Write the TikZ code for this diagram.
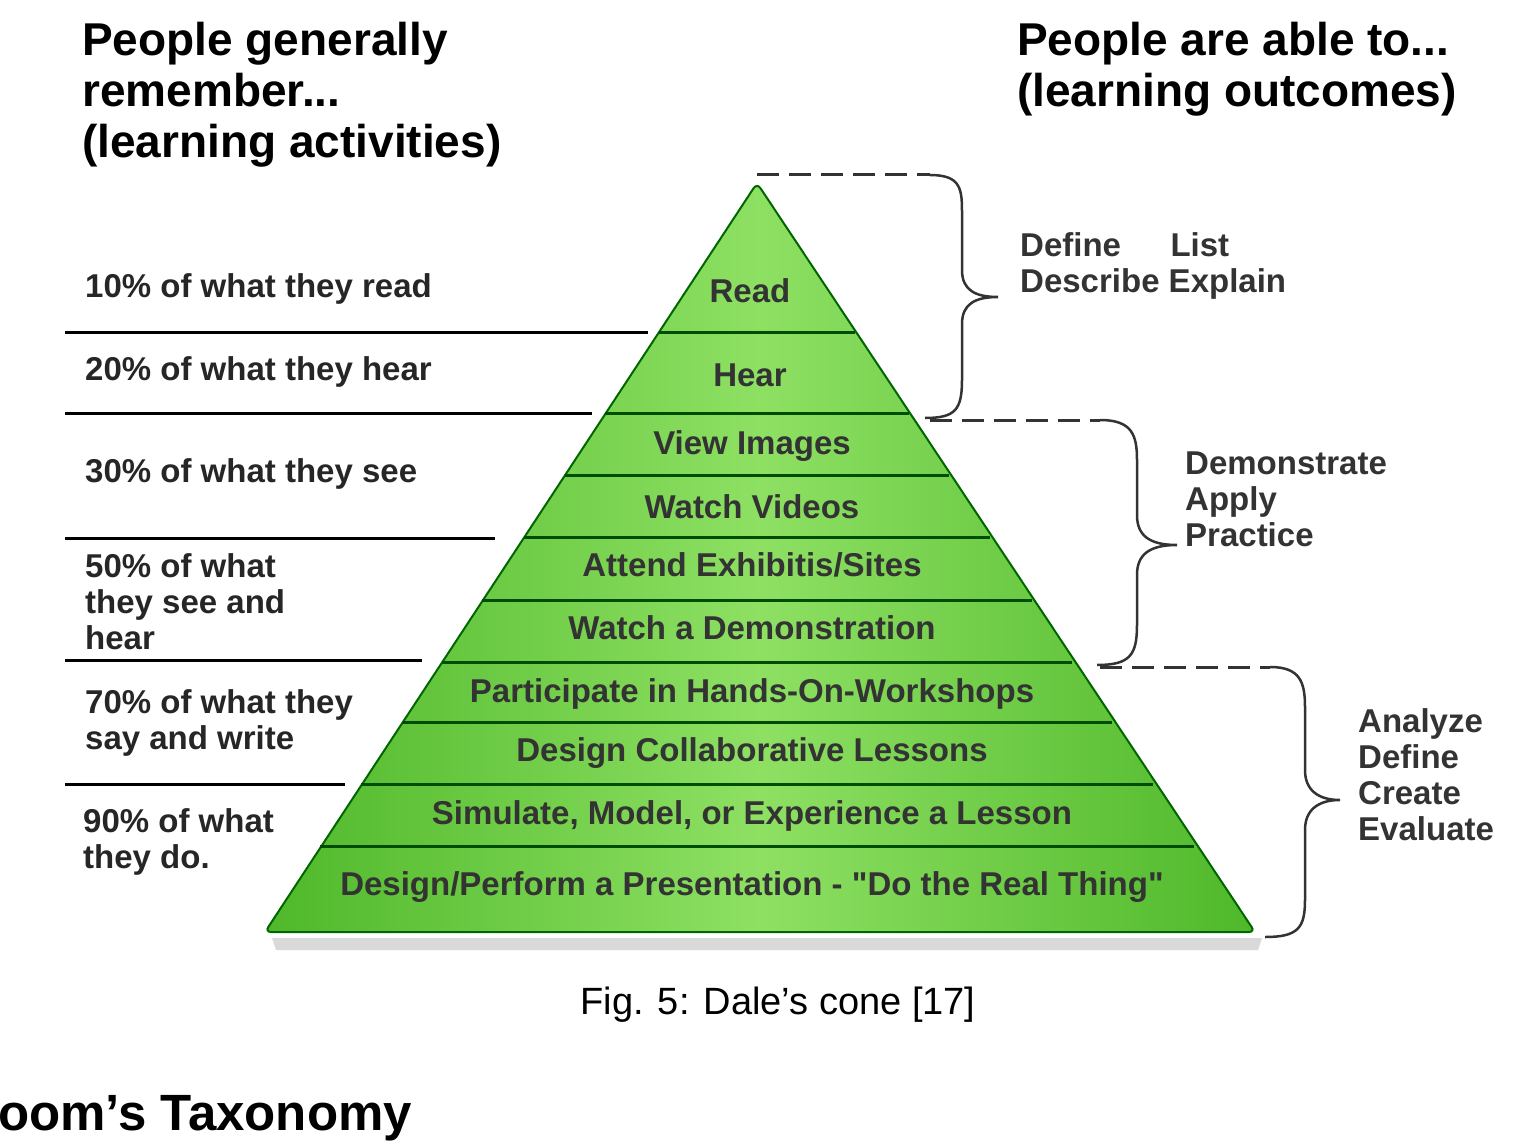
\documentclass[tikz,border=0pt]{standalone}
\usepackage{fontspec}
\setmainfont{Liberation Sans}[Ligatures=TeXOff]
\begin{document}
\begin{tikzpicture}[x=1pt,y=-1pt,
  lab/.style={anchor=west,align=left,font=\fontsize{33}{36}\selectfont\bfseries,text=black!85,inner sep=0},
  ttl/.style={anchor=north west,align=left,font=\fontsize{46}{51}\selectfont\bfseries,inner sep=0},
  pt/.style={font=\fontsize{33}{36}\selectfont\bfseries,text=black!80,inner sep=0},
  sep/.style={line width=3pt},
  band/.style={line width=3pt,draw=green!30!black},
  dsh/.style={line width=3pt,dash pattern=on 22pt off 10pt,draw=black!80},
  brc/.style={line width=2.5pt,draw=black!80},
  outc/.style={anchor=west,align=left,font=\fontsize{33}{36}\selectfont\bfseries,text=black!80,inner sep=0}]
\useasboundingbox (0,0) rectangle (1535,1145);
% titles
\node[ttl] (t1) at (82,22) {People generally\\remember...\\(learning activities)};
\node[ttl] (t2) at (1017,22) {People are able to...\\(learning outcomes)};
% pyramid
\definecolor{g1}{HTML}{8EE063}
\definecolor{g2}{HTML}{4FB82A}
\fill[black!15] (272,938) -- (1262,938) -- (1258,950) -- (276,950) -- cycle;
\shade[left color=g2,right color=g2,middle color=g1,draw=green!40!black,line width=2pt,rounded corners=6pt]
  (757,183) -- (1255,932) -- (265,932) -- cycle;
\foreach \y/\a/\b in {332/659/855,413/605/909,475/565/949,537/524/990,600/482/1032,662/442/1072,722/402/1112,784/361/1153,846/320/1194}
  \draw[band] (\a,\y) -- (\b,\y);
\node[pt] (r1) at (750,291) {Read};
\node[pt] (r2) at (750,375) {Hear};
\node[pt] (r3) at (752,446) {View Images};
\node[pt] (r4) at (752,507) {Watch Videos};
\node[pt] (r5) at (752,565) {Attend Exhibitis/Sites};
\node[pt] (r6) at (752,628) {Watch a Demonstration};
\node[pt] (r7) at (752,694) {Participate in Hands-On-Workshops};
\node[pt] (r8) at (752,753) {Design Collaborative Lessons};
\node[pt] (r9) at (752,816) {Simulate, Model, or Experience a Lesson};
\node[pt] (r10) at (752,887) {Design/Perform a Presentation - "Do the Real Thing"};
% left separators
\draw[sep] (65,332) -- (648,332);
\draw[sep] (65,413) -- (592,413);
\draw[sep] (65,538) -- (495,538);
\draw[sep] (65,660) -- (422,660);
\draw[sep] (65,784) -- (345,784);
\node[lab] (l1) at (85,289) {10\% of what they read};
\node[lab] (l2) at (85,372) {20\% of what they hear};
\node[lab] (l3) at (85,474) {30\% of what they see};
\node[lab] (l4) at (85,602) {50\% of what\\they see and\\hear};
\node[lab] (l5) at (85,723) {70\% of what they\\say and write};
\node[lab] (l6) at (83,842) {90\% of what\\they do.};
% braces
\draw[dsh] (757,175) -- (930,175);
\draw[brc] (930,175) .. controls (962,175) and (962,190) .. (962,215) -- (962,270) .. controls (962,290) and (975,297) .. (998,297)
  .. controls (975,297) and (962,304) .. (962,324) -- (962,380) .. controls (962,410) and (955,418) .. (925,418);
\node[outc] (o1) at (1020,266) {Define\hspace{1.5em}List\\Describe Explain};
\draw[dsh] (930,420) -- (1100,420);
\draw[brc] (1100,420) .. controls (1132,420) and (1137,435) .. (1137,460) -- (1137,515) .. controls (1137,536) and (1150,545) .. (1177,545)
  .. controls (1150,545) and (1137,554) .. (1137,575) -- (1137,625) .. controls (1137,655) and (1130,665) .. (1097,665);
\node[outc] (o2) at (1185,499) {Demonstrate\\Apply\\Practice};
\draw[dsh] (1100,667) -- (1270,667);
\draw[brc] (1270,667) .. controls (1300,667) and (1305,682) .. (1305,707) -- (1305,770) .. controls (1305,790) and (1318,800) .. (1340,800)
  .. controls (1318,800) and (1305,810) .. (1305,830) -- (1305,900) .. controls (1305,928) and (1298,937) .. (1265,937);
\node[outc] (o3) at (1358,775) {Analyze\\Define\\Create\\Evaluate};
% captions
\node[font=\fontsize{38}{44}\selectfont,inner sep=0] (cap) at (778,1005) {Fig. 5: Dale’s cone [17]};
\node[anchor=west,font=\fontsize{51}{56}\selectfont\bfseries,inner sep=0] (bl) at (-2,1118) {oom’s Taxonomy};
\end{tikzpicture}
\end{document}
